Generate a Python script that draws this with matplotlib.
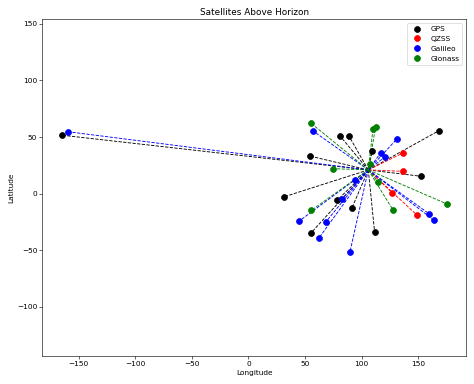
import matplotlib
matplotlib.use('Agg')
import matplotlib.pyplot as plt

# observer position (lon, lat)
obs_lon = 105.8
obs_lat = 21.0

gps_lon = [-164.9, 168.4, 81.2, 88.9, 109.3, 54.4, 152.3, 31.8, 78.6, 91.5, 55.3, 111.4]
gps_lat = [51.7, 55.8, 50.6, 50.6, 37.8, 33.2, 15.4, -2.6, -5.5, -12.2, -34.6, -34.0]

qzss_lon = [136.5, 136.2, 126.8, 148.5]
qzss_lat = [36.0, 19.8, 0.9, -18.6]

galileo_lon = [-159.1, 56.7, 131.0, 116.7, 120.2, 94.4, 44.7, 82.7, 68.1, 62.3, 89.6, 159.6, 164.0]
galileo_lat = [54.7, 55.6, 48.3, 36.0, 32.3, 12.5, -24.2, -4.6, -25.2, -39.0, -51.5, -17.8, -23.6]

glonass_lon = [55.3, 112.3, 109.9, 74.8, 107.5, 114.3, 175.1, 127.7, 55.3]
glonass_lat = [62.2, 59.3, 57.0, 22.1, 26.5, 10.5, -9.0, -14.5, -14.8]

systems = [
    ('GPS', gps_lon, gps_lat, 'black'),
    ('QZSS', qzss_lon, qzss_lat, 'red'),
    ('Galileo', galileo_lon, galileo_lat, 'blue'),
    ('Glonass', glonass_lon, glonass_lat, 'green'),
]

dpi = 53
fig, ax = plt.subplots(figsize=(474 / dpi, 384 / dpi), dpi=dpi)

for name, lons, lats, c in systems:
    for lo, la in zip(lons, lats):
        ax.plot([obs_lon, lo], [obs_lat, la], '--', color=c, linewidth=1.2)

for name, lons, lats, c in systems:
    ax.plot(lons, lats, 'o', color=c, markersize=8, label=name, linestyle='none')

ax.axis('equal')
ax.set_title('Satellites Above Horizon')
ax.set_xlabel('Longitude')
ax.set_ylabel('Latitude')
ax.legend(loc='upper right')

plt.tight_layout()
plt.savefig('out.png', dpi=dpi)
